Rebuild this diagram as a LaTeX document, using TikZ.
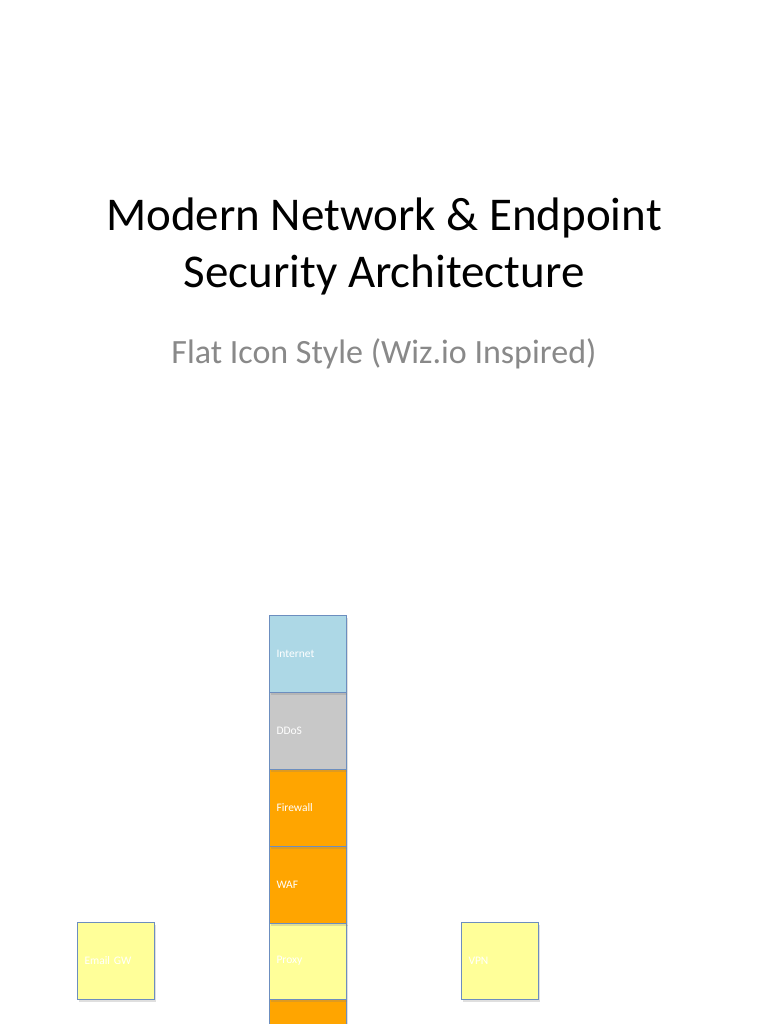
\documentclass[tikz,border=0pt]{standalone}
\usepackage{fontspec}
\setmainfont{Carlito}
\usetikzlibrary{shadows}
\definecolor{edgeblue}{RGB}{108,142,191}
\definecolor{netblue}{RGB}{173,216,230}
\definecolor{ddosgray}{RGB}{200,200,200}
\definecolor{secorange}{RGB}{255,165,0}
\definecolor{paleyellow}{RGB}{255,255,153}
\definecolor{subgray}{RGB}{137,137,137}
\tikzset{
  secbox/.style={draw=edgeblue, line width=1pt, text=white, font=\fontsize{11.5}{13}\selectfont,
    text width=63pt, align=left, inner xsep=7pt, inner ysep=0pt, minimum height=77pt,
    anchor=north west, drop shadow={shadow xshift=1pt, shadow yshift=-2pt, opacity=0.25}},
}
\begin{document}
\begin{tikzpicture}[x=1pt,y=-1pt]
\useasboundingbox (0,0) rectangle (768,1024);
\clip (0,0) rectangle (768,1024);
\fill[white] (0,0) rectangle (768,1024);
\node[anchor=base, font=\fontsize{47}{56}\selectfont] (title1) at (384,231) {Modern Network \& Endpoint};
\node[anchor=base, font=\fontsize{47}{56}\selectfont] (title2) at (384,287) {Security Architecture};
\node[anchor=base, text=subgray, font=\fontsize{34}{40}\selectfont] (subtitle) at (384,363) {Flat Icon Style (Wiz.io Inspired)};
\node[secbox, fill=secorange] (extra) at (269,999) {};
\node[secbox, fill=paleyellow] (proxy) at (269,922) {Proxy};
\node[secbox, fill=secorange] (waf) at (269,846) {WAF};
\node[secbox, fill=secorange] (firewall) at (269,769) {Firewall};
\node[secbox, fill=ddosgray] (ddos) at (269,692) {DDoS};
\node[secbox, fill=netblue] (internet) at (269,615) {Internet};
\node[secbox, fill=paleyellow] (emailgw) at (77,922) {Email GW};
\node[secbox, fill=paleyellow] (vpn) at (461,922) {VPN};
\end{tikzpicture}
\end{document}
